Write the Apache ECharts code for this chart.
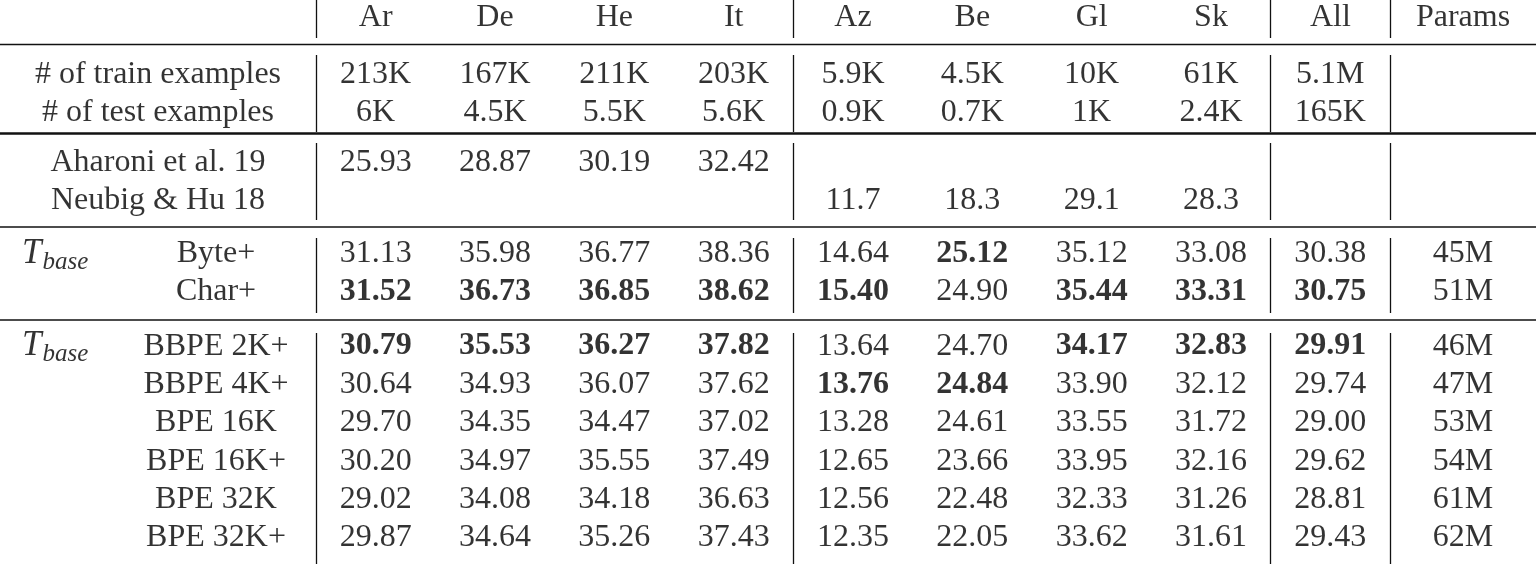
<!DOCTYPE html>
<html>
<head>
<meta charset="utf-8">
<script src="https://cdn.jsdelivr.net/npm/echarts@6/dist/echarts.min.js"></script>
<style>
html,body{margin:0;padding:0;background:#fff;}
#c{width:1536px;height:564px;}
</style>
</head>
<body>
<div id="c"></div>
<script>
// ---------- data ----------
const columns = ['Ar', 'De', 'He', 'It', 'Az', 'Be', 'Gl', 'Sk', 'All'];
const paramsTitle = 'Params';

const statLabels = ['# of train examples', '# of test examples'];
const trainExamples = ['213K', '167K', '211K', '203K', '5.9K', '4.5K', '10K', '61K', '5.1M'];
const testExamples = ['6K', '4.5K', '5.5K', '5.6K', '0.9K', '0.7K', '1K', '2.4K', '165K'];

const priorLabels = ['Aharoni et al. 19', 'Neubig & Hu 18'];
const aharoniScores = [25.93, 28.87, 30.19, 32.42, null, null, null, null, null];
const neubigScores = [null, null, null, null, 11.7, 18.3, 29.1, 28.3, null];

const modelTag = 'T';
const modelTagSub = 'base';

const charLabels = ['Byte+', 'Char+'];
const byteScores = [31.13, 35.98, 36.77, 38.36, 14.64, 25.12, 35.12, 33.08, 30.38];
const charScores = [31.52, 36.73, 36.85, 38.62, 15.40, 24.90, 35.44, 33.31, 30.75];
const charParams = ['45M', '51M'];
const charBold = [['Be'], ['Ar', 'De', 'He', 'It', 'Az', 'Gl', 'Sk', 'All']];

const bbpeLabels = ['BBPE 2K+', 'BBPE 4K+', 'BPE 16K', 'BPE 16K+', 'BPE 32K', 'BPE 32K+'];
const bbpe2kScores = [30.79, 35.53, 36.27, 37.82, 13.64, 24.70, 34.17, 32.83, 29.91];
const bbpe4kScores = [30.64, 34.93, 36.07, 37.62, 13.76, 24.84, 33.90, 32.12, 29.74];
const bpe16kScores = [29.70, 34.35, 34.47, 37.02, 13.28, 24.61, 33.55, 31.72, 29.00];
const bpe16kPlusScores = [30.20, 34.97, 35.55, 37.49, 12.65, 23.66, 33.95, 32.16, 29.62];
const bpe32kScores = [29.02, 34.08, 34.18, 36.63, 12.56, 22.48, 32.33, 31.26, 28.81];
const bpe32kPlusScores = [29.87, 34.64, 35.26, 37.43, 12.35, 22.05, 33.62, 31.61, 29.43];
const bbpeParams = ['46M', '47M', '53M', '54M', '61M', '62M'];
const bbpeBold = [['Ar', 'De', 'He', 'It', 'Gl', 'Sk', 'All'], ['Az', 'Be'], [], [], [], []];

// column groups that start with a vertical rule (names from columns)
const ruleBefore = ['Ar', 'Az', 'All'];

// ---------- layout / style ----------
const FONT = "'Liberation Serif', 'Times New Roman', Times, serif";
const FS = 32;
const INK = '#000';
const RULE = '#111';
const LABEL_W = 316;
const DATA_W = 1074;
const MODEL_SHIFT = 58;
const TAG_SHIFT = -136;

const sectionLayout = [
  { rowTop: 1, rowBottom: 35, ruleTop: 0, ruleBottom: 38 },
  { rowTop: 55, rowBottom: 132, ruleTop: 55, ruleBottom: 132 },
  { rowTop: 143, rowBottom: 220, ruleTop: 143, ruleBottom: 220 },
  { rowTop: 235, rowBottom: 310, ruleTop: 238, ruleBottom: 313 },
  { rowTop: 327, rowBottom: 557, ruleTop: 333, ruleBottom: 564 }
];
const hRules = [
  { y: 44, w: 1.4 },
  { y: 133.5, w: 2.6 },
  { y: 227, w: 1.5 },
  { y: 320, w: 1.5 }
];

// ---------- table model built from the arrays ----------
const fmt = (v, d) => (v == null ? '' : v.toFixed(d));
const sections = [
  [{ label: '', cells: columns.slice(), params: paramsTitle }],
  statLabels.map((l, i) => ({ label: l, cells: [trainExamples, testExamples][i], params: '' })),
  [
    { label: priorLabels[0], cells: aharoniScores.map(v => fmt(v, 2)), params: '' },
    { label: priorLabels[1], cells: neubigScores.map(v => fmt(v, 1)), params: '' }
  ],
  charLabels.map((m, i) => ({
    tag: i === 0, model: m,
    cells: [byteScores, charScores][i].map(v => fmt(v, 2)),
    params: charParams[i], bold: charBold[i]
  })),
  bbpeLabels.map((m, i) => ({
    tag: i === 0, model: m,
    cells: [bbpe2kScores, bbpe4kScores, bpe16kScores, bpe16kPlusScores, bpe32kScores, bpe32kPlusScores][i].map(v => fmt(v, 2)),
    params: bbpeParams[i], bold: bbpeBold[i]
  }))
];

// ---------- option ----------
const grids = [], xAxes = [], yAxes = [], series = [];
function addGrid(g, x, y) {
  grids.push(g);
  const i = grids.length - 1;
  xAxes.push(Object.assign({ gridIndex: i }, x));
  yAxes.push(Object.assign({ gridIndex: i }, y));
  return i;
}
const baseLabel = {
  show: true, position: 'inside', fontFamily: FONT, fontSize: FS, color: INK,
  formatter: p => p.data.text,
  rich: {
    t: { fontFamily: FONT, fontStyle: 'italic', fontSize: 35, lineHeight: 42, verticalAlign: 'middle', color: INK },
    s: { fontFamily: FONT, fontStyle: 'italic', fontSize: 25, lineHeight: 25, verticalAlign: 'bottom', color: INK, padding: [0, 0, 0, 1] }
  }
};
function textSeries(idx, data) {
  series.push({
    type: 'scatter', xAxisIndex: idx, yAxisIndex: idx,
    symbolSize: 1, itemStyle: { color: 'rgba(0,0,0,0)' },
    silent: true, label: baseLabel, data: data
  });
}

sections.forEach((rows, si) => {
  const L = sectionLayout[si];
  const rowIds = rows.map((r, ri) => 's' + si + 'r' + ri);
  const yCat = { type: 'category', data: rowIds, inverse: true, show: false };
  const gTop = L.rowTop, gH = L.rowBottom - L.rowTop;

  // label column
  const gl = addGrid({ left: 0, width: LABEL_W, top: gTop, height: gH },
    { type: 'category', data: ['label'], show: false }, yCat);
  const lData = [];
  rows.forEach((r, ri) => {
    if (r.label) lData.push({ value: ['label', rowIds[ri]], text: r.label });
    if (r.model) lData.push({ value: ['label', rowIds[ri]], text: r.model, label: { offset: [MODEL_SHIFT, 0] } });
    if (r.tag) lData.push({
      value: ['label', rowIds[ri]], text: '{t|' + modelTag + '}{s|' + modelTagSub + '}',
      label: { align: 'left', offset: [TAG_SHIFT, 0] }
    });
  });
  textSeries(gl, lData);

  // data columns
  const gd = addGrid({ left: LABEL_W, width: DATA_W, top: gTop, height: gH },
    { type: 'category', data: columns, show: false }, yCat);
  const dData = [];
  rows.forEach((r, ri) => {
    r.cells.forEach((c, ci) => {
      if (!c) return;
      const item = { value: [columns[ci], rowIds[ri]], text: c };
      if (r.bold && r.bold.indexOf(columns[ci]) >= 0) item.label = { fontWeight: 'bold' };
      dData.push(item);
    });
  });
  textSeries(gd, dData);

  // params column
  const gp = addGrid({ left: LABEL_W + DATA_W, right: 0, top: gTop, height: gH },
    { type: 'category', data: [paramsTitle], show: false }, yCat);
  const pData = [];
  rows.forEach((r, ri) => { if (r.params) pData.push({ value: [paramsTitle, rowIds[ri]], text: r.params }); });
  textSeries(gp, pData);
});

// vertical rules per section (split lines of the column axis)
sectionLayout.forEach(L => {
  addGrid({ left: LABEL_W, width: DATA_W, top: L.ruleTop, height: L.ruleBottom - L.ruleTop },
    {
      type: 'category', data: columns,
      axisLine: { show: false }, axisTick: { show: false }, axisLabel: { show: false },
      splitLine: {
        show: true,
        interval: (idx, name) => ruleBefore.indexOf(name) >= 0,
        lineStyle: { color: RULE, width: 1.3 }
      }
    },
    { type: 'category', data: ['r'], show: false });
});

// horizontal rules (axis lines across the full width)
hRules.forEach(h => {
  addGrid({ left: 0, right: 0, top: h.y, height: 10 },
    {
      type: 'category', data: ['x'], position: 'top',
      axisLine: { show: true, lineStyle: { color: RULE, width: h.w } },
      axisTick: { show: false }, axisLabel: { show: false }, splitLine: { show: false }
    },
    { type: 'category', data: ['y'], show: false });
});

const chart = echarts.init(document.getElementById('c'), null, { renderer: 'canvas' });
chart.setOption({
  animation: false,
  backgroundColor: '#fff',
  grid: grids, xAxis: xAxes, yAxis: yAxes, series: series
});
</script>
</body>
</html>
